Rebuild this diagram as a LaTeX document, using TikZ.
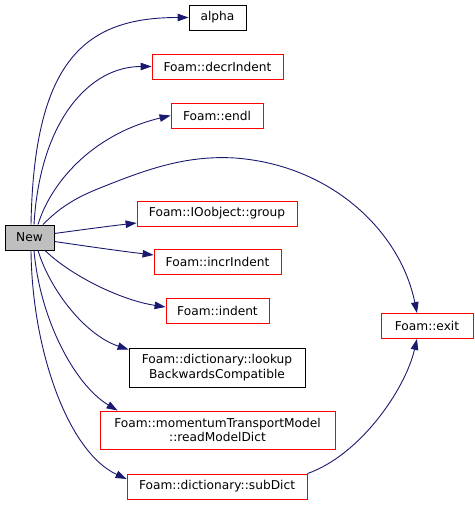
\documentclass[tikz,border=0pt]{standalone}
\usepackage{fontspec}
\setmainfont{DejaVu Sans}
\usetikzlibrary{arrows.meta,calc}
\definecolor{edgeblue}{HTML}{191970}
\definecolor{nodered}{HTML}{FF0000}
\definecolor{newgray}{HTML}{BFBFBF}
\begin{document}
\begin{tikzpicture}[x=1pt,y=-1pt,
  box/.style={draw=nodered,line width=0.85pt,fill=white,inner sep=0pt,minimum height=25pt,font=\fontsize{12.2}{14.3}\selectfont,align=center},
  blackbox/.style={box,draw=black},
  edge/.style={draw=edgeblue,line width=0.9pt,-{Triangle[length=11pt,width=7.5pt]}}]
\useasboundingbox (0,0) rectangle (474,505);
\node[blackbox,fill=newgray,minimum width=49pt] (New) at (29.5,237.5) {New};
\node[blackbox,minimum width=57pt] (alpha) at (217.5,17.5) {alpha};
\node[box,minimum width=131pt] (decr) at (217.5,66.5) {Foam::decrIndent};
\node[box,minimum width=92pt] (endl) at (217,115.5) {Foam::endl};
\node[box,minimum width=160pt] (group) at (217,213.5) {Foam::IOobject::group};
\node[box,minimum width=127pt] (incr) at (217.5,261.5) {Foam::incrIndent};
\node[box,minimum width=103pt] (indent) at (217.5,310.5) {Foam::indent};
\node[box,minimum width=92pt] (exit) at (427,326) {Foam::exit};
\node[blackbox,minimum width=176pt,minimum height=39pt] (lookup) at (217,367.5) {Foam::dictionary::lookup\\BackwardsCompatible};
\node[box,minimum width=235pt,minimum height=38pt] (momentum) at (217.5,430) {Foam::momentumTransportModel\\::readModelDict};
\node[box,minimum width=180pt] (subdict) at (217,486.5) {Foam::dictionary::subDict};

\draw[edge] ($(New.north)+(1.5,0)$) .. controls (34,60) and (85,17.5) .. (alpha.west);
\draw[edge] ($(New.north)+(4.5,0)$) .. controls (40,120) and (90,66.5) .. (decr.west);
\draw[edge] ($(New.north)+(8.5,0)$) .. controls (50,185) and (90,135) .. (endl.west);
\draw[edge] ($(New.north)+(13.5,0)$) .. controls (62,205) and (80,196) .. (100,188)
  .. controls (145,170) and (185,155) .. (235,158)
  .. controls (330,165) and (400,230) .. ($(exit.north)+(-10,0)$);
\draw[edge] ($(New.east)+(0,-4)$) .. controls (80,230) and (110,226) .. ($(group.west)+(0,9.5)$);
\draw[edge] ($(New.east)+(0,4)$) .. controls (85,246) and (120,251) .. ($(incr.west)+(0,-6.5)$);
\draw[edge] ($(New.south)+(15.5,0)$) .. controls (70,275) and (120,300) .. ($(indent.west)+(0,-3.5)$);
\draw[edge] ($(New.south)+(8.5,0)$) .. controls (50,290) and (85,335) .. ($(lookup.north west)+(0,2)$);
\draw[edge] ($(New.south)+(4.5,0)$) .. controls (40,320) and (75,385) .. ($(momentum.north west)+(18,0)$);
\draw[edge] ($(New.south)+(1.5,0)$) .. controls (32,350) and (68,452) .. ($(subdict.west)+(0,-7.5)$);
\draw[edge] (subdict.north east) .. controls (360,455) and (405,390) .. ($(exit.south)+(-10,0)$);
\end{tikzpicture}
\end{document}
